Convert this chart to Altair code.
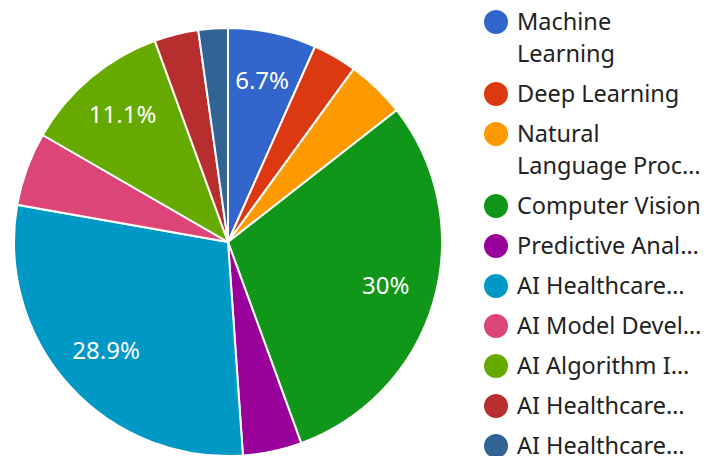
import altair as alt
import pandas as pd

categories = [
    "Machine Learning",
    "Deep Learning",
    "Natural Language Processing",
    "Computer Vision",
    "Predictive Analytics",
    "AI Healthcare Applications",
    "AI Model Development",
    "AI Algorithm Innovation",
    "AI Healthcare Ethics",
    "AI Healthcare Policy",
]
legend_labels = [
    "Machine\nLearning",
    "Deep Learning",
    "Natural\nLanguage Proc…",
    "Computer Vision",
    "Predictive Anal…",
    "AI Healthcare…",
    "AI Model Devel…",
    "AI Algorithm I…",
    "AI Healthcare…",
    "AI Healthcare…",
]
counts = [6, 3, 4, 27, 4, 26, 5, 10, 3, 2]
colors = ["#3366cc", "#dc3912", "#ff9900", "#109618", "#990099",
          "#0099c6", "#dd4477", "#66aa00", "#b82e2e", "#316395"]

df = pd.DataFrame({
    "category": categories,
    "legend_label": legend_labels,
    "count": counts,
    "idx": list(range(len(categories))),
})
# number of extra text lines before each legend entry (derived from the label text)
extra_lines = [lbl.count("\n") for lbl in legend_labels]
df["extra_before"] = [sum(extra_lines[:i]) for i in range(len(extra_lines))]

FONT = "Noto Sans"
CX, CY, R = 220, 234, 214

color = alt.Color(
    "category:N",
    scale=alt.Scale(domain=categories, range=colors),
    sort=categories,
    legend=None,
)

base = alt.Chart(df).encode(
    theta=alt.Theta("count:Q", stack=True),
    order=alt.Order("idx:Q", sort="ascending"),
)

pie = base.mark_arc(x=CX, y=CY, radius=R, stroke="white", strokeWidth=2).encode(color=color)

pct_text = base.transform_joinaggregate(total="sum(count)").transform_calculate(
    pct="datum.count / datum.total"
).mark_text(x=CX, y=CY, radius=164, fontSize=24, font=FONT, color="white").encode(
    text=alt.Text("pct:Q", format=".1~%"),
    opacity=alt.condition("datum.pct > 0.06", alt.value(1), alt.value(0)),
)

# Custom legend (Google-Charts style: circle aligned with first line of label)
legend_base = alt.Chart(df).transform_calculate(
    ly="14 + datum.idx * 40 + datum.extra_before * 32"
)

legend_sym = legend_base.mark_point(filled=True, shape="circle", size=576, opacity=1).encode(
    x=alt.value(488),
    y=alt.Y("ly:Q", scale=None, axis=None),
    color=color,
)

legend_txt = legend_base.mark_text(
    align="left", baseline="top", dy=-11, fontSize=23.5, font=FONT,
    color="#222222", lineBreak="\n", lineHeight=32,
).encode(
    x=alt.value(509),
    y=alt.Y("ly:Q", scale=None, axis=None),
    text="legend_label:N",
)

chart = (
    alt.layer(pie, pct_text, legend_sym, legend_txt)
    .properties(width=696, height=448, padding=0, autosize=alt.AutoSizeParams(type="none"))
    .configure_view(stroke=None)
)

chart.save("out.html", embed_options={"renderer": "svg", "actions": False})
